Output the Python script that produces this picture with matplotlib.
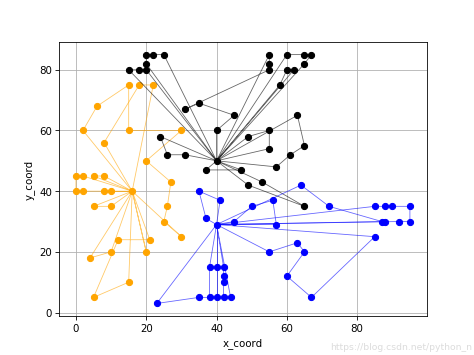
import matplotlib
matplotlib.use('Agg')
import matplotlib.pyplot as plt

# depots and routes of the three groups
orange_depot = (16, 40)
orange_routes = [
    [(2, 60), (6, 68), (15, 75), (15, 60), (30, 60), (20, 50), (27, 43), (26, 35), (25, 30), (30, 25)],
    [(8, 56), (18, 75), (22, 75)],
    [(8, 45), (5, 45)],
    [(2, 45), (0, 45), (0, 40), (2, 40)],
    [(10, 40), (8, 40)],
    [(5, 35), (10, 35)],
    [(21, 24), (12, 24), (5, 5), (15, 10)],
    [(4, 18), (10, 20)],
    [(20, 20)],
]

black_depot = (40, 50)
black_routes = [
    [(25, 85), (22, 85), (20, 85), (20, 82)],
    [(20, 80), (18, 80), (15, 80)],
    [(40, 60), (45, 65), (35, 69), (31, 67), (55, 80), (55, 82), (55, 85)],
    [(60, 85), (65, 85), (67, 85), (65, 82)],
    [(58, 75), (60, 80), (62, 80)],
    [(49, 58), (55, 60), (55, 54)],
    [(63, 65), (65, 55), (61, 52), (57, 48)],
    [(37, 47), (47, 47)],
    [(49, 42), (65, 35), (53, 43)],
    [(24, 58), (26, 52), (31, 52)],
]

blue_depot = (40, 29)
blue_routes = [
    [(41, 37), (35, 40), (37, 31)],
    [(45, 30), (50, 35), (56, 37), (57, 29)],
    [(64, 42), (72, 35), (87, 30), (88, 30)],
    [(85, 35), (88, 35), (90, 35), (95, 35), (95, 30), (92, 30)],
    [(55, 20), (63, 23), (65, 20), (60, 12), (67, 5), (85, 25)],
    [(23, 3), (35, 5), (38, 5), (38, 15)],
    [(40, 15), (40, 5)],
    [(42, 15), (42, 12), (42, 10), (42, 5), (44, 5)],
]

groups = [(orange_depot, orange_routes, 'orange'),
          (black_depot, black_routes, 'black'),
          (blue_depot, blue_routes, 'blue')]

fig = plt.figure(figsize=(6.4, 4.8), dpi=74.0625)
ax = fig.add_subplot(1, 1, 1)

for depot, routes, c in groups:
    for r in routes:
        pts = [depot] + r + [depot]
        ax.plot([p[0] for p in pts], [p[1] for p in pts], color=c, linewidth=0.8, alpha=0.6)
    xs = [depot[0]] + [p[0] for r in routes for p in r]
    ys = [depot[1]] + [p[1] for r in routes for p in r]
    ax.plot(xs, ys, 'o', color=c, markersize=6)

ax.set_xlabel('x_coord')
ax.set_ylabel('y_coord')
ax.grid(True)

fig.text(0.995, 0.01, 'https://blog.csdn.net/python_n', ha='right', va='bottom',
         color='#dcdcdc', fontsize=9)

fig.savefig('out.png', dpi=74.0625)
